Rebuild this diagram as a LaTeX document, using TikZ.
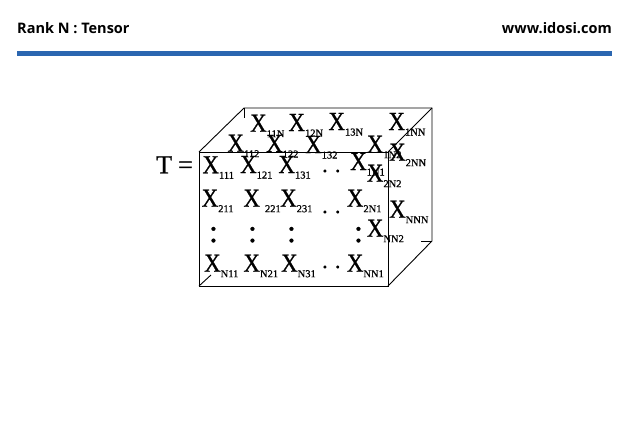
\documentclass[tikz,border=0pt]{standalone}
\usepackage{fontspec}
\usepackage{graphicx}
\setmainfont{Liberation Serif}[FakeBold=0.9]
\newfontfamily\hdrfont{Open Sans}
\definecolor{barblue}{HTML}{2B66B0}
\newcommand\xsub[2][0pt]{\scalebox{0.88}[1]{\fontsize{26}{26}\selectfont X}\kern#1\raisebox{-5.5pt}{\fontsize{10.5}{10.5}\selectfont #2}}
\begin{document}
\begin{tikzpicture}[x=1pt,y=-1pt,
  hdr/.style={inner sep=0pt,font=\hdrfont\bfseries\fontsize{14.5}{14.5}\selectfont},
  el/.style={inner sep=0pt,anchor=base west},
  dts/.style={inner sep=0pt,anchor=base west,font=\fontsize{22}{22}\selectfont},
  cln/.style={inner sep=0pt,anchor=base,font=\fontsize{32}{32}\selectfont},
  edge/.style={line width=0.9pt,black}]
\useasboundingbox (0,0) rectangle (638,442);
% header
\node[hdr,anchor=base west] (title) at (17,33) {Rank N : Tensor};
\node[hdr,anchor=base east] (site) at (612,33) {www.idosi.com};
\fill[barblue] (17,51) rectangle (612,55.5);
% box
\coordinate (F1) at (199,152);
\coordinate (F2) at (388,152);
\coordinate (F3) at (388,286);
\coordinate (F4) at (199,286);
\coordinate (B1) at (244,108);
\coordinate (B2) at (432,108);
\coordinate (B3) at (432,241);
\coordinate (S1) at (244,118);
\coordinate (S2) at (421,241);
\coordinate (S3) at (211,275);
\draw[edge] (F1) -- (F2) -- (F3) -- (F4) -- cycle;
\draw[edge] (F1) -- (B1) -- (B2) -- (B3) -- (F3);
\draw[edge] (F2) -- (B2);
\draw[edge] (B1) -- (S1);
\draw[edge] (B3) -- (S2);
\draw[edge] (F4) -- (S3);
% T =
\node[inner sep=0pt,anchor=base west,font=\fontsize{26}{26}\selectfont] (T) at (156,173.3) {T};
\node[inner sep=0pt,anchor=base west,font=\fontsize{26}{26}\selectfont] (eq) at (178,173.3) {=};
% back layer
\node[el] (x11N) at (250,131.7) {\xsub{11N}};
\node[el] (x12N) at (288.3,131) {\xsub{12N}};
\node[el] (x13N) at (328.3,130) {\xsub{13N}};
\node[el] (x1NN) at (388.3,130) {\xsub{1NN}};
% middle layer
\node[el] (x112) at (227.3,151.7) {\xsub{112}};
\node[el] (x122) at (266,152) {\xsub{122}};
\node[el] (x132) at (305,153) {\xsub{132}};
\node[el] (x1N2) at (366.7,152.7) {\xsub{1N2}};
\node[el] (x2NN) at (389,160.7) {\xsub{2NN}};
% front row 1
\node[el] (x111) at (202.3,173.3) {\xsub{111}};
\node[el] (x121) at (240,173) {\xsub{121}};
\node[el] (x131) at (278.3,173) {\xsub{131}};
\node[dts] (d1) at (322,172) {. .};
\node[el] (x1N1) at (350,170) {\xsub{1N1}};
\node[el] (x2N2) at (366.7,181.7) {\xsub{2N2}};
% front row 2
\node[el] (x211) at (201.5,206.7) {\xsub{211}};
\node[el] (x221) at (243.3,206.7) {\xsub[5pt]{221}};
\node[el] (x231) at (280,206.7) {\xsub{231}};
\node[dts] (d2) at (322,213) {. .};
\node[el] (x2N1) at (346.7,206.7) {\xsub{2N1}};
\node[el] (xNNN) at (389,217.7) {\xsub{NNN}};
% colons
\node[cln] (c1) at (213.5,242) {:};
\node[cln] (c2) at (252.5,242) {:};
\node[cln] (c3) at (291.5,242) {:};
\node[cln] (c4) at (358.5,242) {:};
\node[el] (xNN2) at (366.7,236.7) {\xsub{NN2}};
% front row 4
\node[el] (xN11) at (204,271.7) {\xsub{N11}};
\node[el] (xN21) at (243.3,271.7) {\xsub{N21}};
\node[el] (xN31) at (281,271.7) {\xsub{N31}};
\node[dts] (d3) at (322,268) {. .};
\node[el] (xNN1) at (346.7,271.7) {\xsub{NN1}};
\end{tikzpicture}
\end{document}
